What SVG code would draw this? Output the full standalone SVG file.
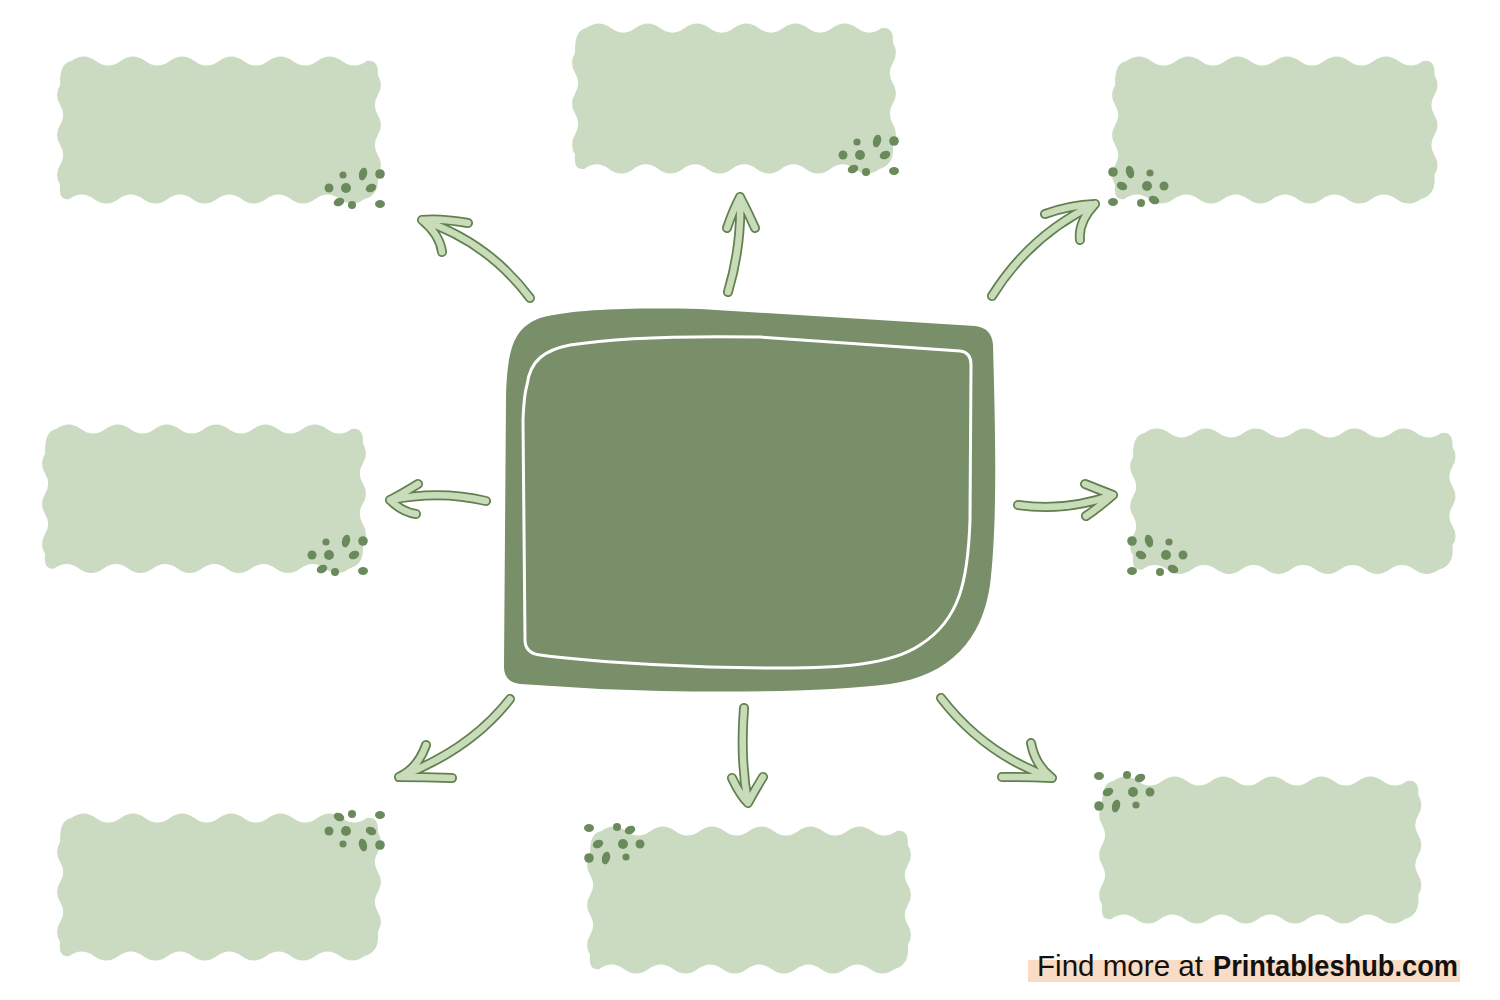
<svg xmlns="http://www.w3.org/2000/svg" xmlns:xlink="http://www.w3.org/1999/xlink" width="1500" height="1000" viewBox="0 0 1500 1000">
<style>
.box{fill:#cbdbc2}
.dot{fill:#6b8a5c}
.ao{fill:none;stroke:#62804f;stroke-width:10;stroke-linecap:round;stroke-linejoin:round}
.ai{fill:none;stroke:#c8dcba;stroke-width:6.5;stroke-linecap:round;stroke-linejoin:round}
.ft{font-family:"Liberation Sans",Arial,sans-serif;font-size:29px;fill:#111}
</style>
<defs>
<path id="wave" d="M 16 6 q 12 -9 24 0 t 24 0 t 24 0 t 24 0 t 24 0 t 24 0 t 24 0 t 24 0 t 24 0 t 24 0 t 24 0 t 24 0 Q 316 4 315 20 q 6 10 0 20 t 0 20 t 0 20 t 0 20 t 0 20 Q 317 140 302 144 q -12 9 -24 0 t -24 0 t -24 0 t -24 0 t -24 0 t -24 0 t -24 0 t -24 0 t -24 0 t -24 0 t -24 0 t -24 0 Q 3 146 5 130 q -6 -10 0 -20 t 0 -20 t 0 -20 t 0 -20 t 0 -20 Q 4 8 16 6 Z"/>
<g id="dots">
<circle cx="-14" cy="-15" r="3.6"/>
<ellipse cx="6" cy="-16" rx="4" ry="6.5" transform="rotate(15 6 -16)"/>
<circle cx="23" cy="-16" r="4.8"/>
<circle cx="-28" cy="-2" r="4.5"/>
<circle cx="-11" cy="-2" r="5"/>
<ellipse cx="14" cy="-2" rx="5.5" ry="4" transform="rotate(-25 14 -2)"/>
<ellipse cx="-18" cy="12" rx="5.5" ry="4" transform="rotate(-25 -18 12)"/>
<circle cx="-5" cy="15" r="4"/>
<ellipse cx="23" cy="14" rx="5" ry="4"/>
</g>
<path id="a1" d="M 530 298 Q 488 242 422 220 M 468 223 Q 440 218 422 220 Q 440 235 442 252"/>
<path id="a2" d="M 728 292 Q 742 245 740 197 M 727 228 Q 733 210 740 197 Q 748 212 755 228"/>
<path id="a3" d="M 992 296 Q 1030 235 1095 204 M 1045 214 Q 1070 205 1095 204 Q 1078 222 1080 240"/>
<path id="a4" d="M 486 501 Q 440 490 390 500 M 418 484 Q 400 495 390 500 Q 402 512 416 514"/>
<path id="a5" d="M 1018 505 Q 1065 512 1113 495 M 1085 484 Q 1100 490 1113 495 Q 1098 508 1086 516"/>
<path id="a6" d="M 510 699 Q 470 750 399 777 M 426 745 Q 418 768 399 777 Q 425 777 452 778"/>
<path id="a7" d="M 744 708 Q 740 760 748 803 M 732 778 Q 740 795 748 803 Q 755 790 763 777"/>
<path id="a8" d="M 941 698 Q 985 755 1052 778 M 1031 743 Q 1035 765 1052 778 Q 1025 777 1002 777"/>
</defs>
<rect width="1500" height="1000" fill="#ffffff"/>

<g id="center">
<path fill="#788f6a" d="M 540 318 C 580 308 640 308 700 309 L 975 326 Q 992 328 993 345 C 995 420 998 520 990 585 C 982 640 950 675 890 684 C 820 693 700 693 600 689 L 520 684 Q 503 682 504 665 L 506 400 C 507 345 515 328 540 318 Z"/>
<path fill="none" stroke="#ffffff" stroke-width="3" d="M 527 385 C 530 360 545 350 570 345 C 620 337 700 336 760 337 L 960 351 Q 971 352 971 365 L 970 520 C 968 580 960 620 920 645 C 890 665 840 668 780 668 C 700 668 600 663 540 655 Q 525 653 525 640 L 523 420 Q 524 395 527 385 Z"/>
</g>

<g id="box-tl"><use xlink:href="#wave" class="box" transform="translate(55 55) scale(1.025 1)"/><use xlink:href="#dots" class="dot" transform="translate(357 190)"/></g>
<g id="box-tc"><use xlink:href="#wave" class="box" transform="translate(570 22) scale(1.025 1.02)"/><use xlink:href="#dots" class="dot" transform="translate(871 157)"/></g>
<g id="box-tr"><use xlink:href="#wave" class="box" transform="translate(1110 55) scale(1.03 1)"/><use xlink:href="#dots" class="dot" transform="translate(1136 188) scale(-1 1)"/></g>
<g id="box-ml"><use xlink:href="#wave" class="box" transform="translate(40 423) scale(1.025 1.01)"/><use xlink:href="#dots" class="dot" transform="translate(340 557)"/></g>
<g id="box-mr"><use xlink:href="#wave" class="box" transform="translate(1128 427) scale(1.03 0.99)"/><use xlink:href="#dots" class="dot" transform="translate(1155 557) scale(-1 1)"/></g>
<g id="box-bl"><use xlink:href="#wave" class="box" transform="translate(55 812) scale(1.025 1)"/><use xlink:href="#dots" class="dot" transform="translate(357 829) scale(1 -1)"/></g>
<g id="box-bc"><use xlink:href="#wave" class="box" transform="translate(585 825) scale(1.025 1)"/><use xlink:href="#dots" class="dot" transform="translate(612 842) rotate(180)"/></g>
<g id="box-br"><use xlink:href="#wave" class="box" transform="translate(1097 775) scale(1.02 1)"/><use xlink:href="#dots" class="dot" transform="translate(1122 790) rotate(180)"/></g>

<g id="connectors">
<g><use xlink:href="#a1" class="ao"/><use xlink:href="#a1" class="ai"/></g>
<g><use xlink:href="#a2" class="ao"/><use xlink:href="#a2" class="ai"/></g>
<g><use xlink:href="#a3" class="ao"/><use xlink:href="#a3" class="ai"/></g>
<g><use xlink:href="#a4" class="ao"/><use xlink:href="#a4" class="ai"/></g>
<g><use xlink:href="#a5" class="ao"/><use xlink:href="#a5" class="ai"/></g>
<g><use xlink:href="#a6" class="ao"/><use xlink:href="#a6" class="ai"/></g>
<g><use xlink:href="#a7" class="ao"/><use xlink:href="#a7" class="ai"/></g>
<g><use xlink:href="#a8" class="ao"/><use xlink:href="#a8" class="ai"/></g>
</g>

<g id="footer">
<rect x="1028" y="960" width="432" height="22" fill="#f9dcc3"/>
<text class="ft" x="1037" y="976" textLength="166" lengthAdjust="spacingAndGlyphs">Find more at</text>
<text class="ft" x="1213" y="976" font-weight="bold" textLength="245" lengthAdjust="spacingAndGlyphs">Printableshub.com</text>
</g>
</svg>
